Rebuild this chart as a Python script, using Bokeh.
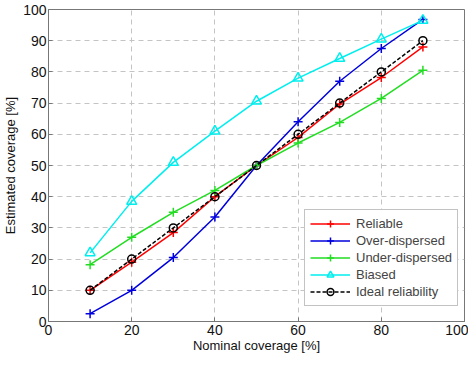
from bokeh.plotting import figure
from bokeh.embed import file_html
from bokeh.resources import INLINE
from bokeh.models import Range1d, FixedTicker, Legend, LegendItem

nominal = [10, 20, 30, 40, 50, 60, 70, 80, 90]
reliable = [10, 19, 28.5, 40, 50, 59, 69.7, 78.2, 88]
over_dispersed = [2.5, 10, 20.5, 33.5, 50, 64, 77, 87.5, 96.8]
under_dispersed = [18.2, 27, 35, 42, 50, 57.2, 63.8, 71.5, 80.5]
biased = [22, 38.5, 51, 61, 70.6, 78, 84.3, 90.5, 96.5]
ideal = [10, 20, 30, 40, 50, 60, 70, 80, 90]
ticks = [0, 10, 20, 30, 40, 50, 60, 70, 80, 90, 100]
xticks = [0, 20, 40, 60, 80, 100]

p = figure(frame_width=416, frame_height=312, output_backend="svg", toolbar_location=None,
           x_range=Range1d(0, 100), y_range=Range1d(0, 100),
           min_border_left=10, min_border_right=4, min_border_top=9, min_border_bottom=10)

font = "Liberation Sans"
for ax in (p.xaxis, p.yaxis):
    ax.major_label_text_font = font
    ax.major_label_text_font_size = "14px"
    ax.major_label_text_color = "#111111"
    ax.axis_label_text_font = font
    ax.axis_label_text_font_size = "13px"
    ax.axis_label_text_font_style = "normal"
    ax.axis_label_text_color = "#111111"
    ax.major_tick_in = 4
    ax.major_tick_out = 0
    ax.minor_tick_line_color = None
    ax.axis_line_color = "#777777"
    ax.major_tick_line_color = "#777777"
p.xaxis.ticker = FixedTicker(ticks=xticks)
p.yaxis.ticker = FixedTicker(ticks=ticks)
p.xaxis.axis_label = "Nominal coverage [%]"
p.yaxis.axis_label = "Estimated coverage [%]"
p.xaxis.axis_label_standoff = 0
p.yaxis.axis_label_standoff = 2
p.xaxis.major_label_standoff = 3
p.yaxis.major_label_standoff = 2

p.xgrid.ticker = FixedTicker(ticks=xticks)
p.ygrid.ticker = FixedTicker(ticks=ticks)
for g in (p.xgrid, p.ygrid):
    g.grid_line_color = "#c4c4c4"
    g.grid_line_dash = "5 4"
    g.grid_line_width = 1
p.outline_line_color = "#777777"
p.outline_line_alpha = 1

items = []
series = [
    ("Reliable", reliable, "#ff0000", "cross"),
    ("Over-dispersed", over_dispersed, "#0000dd", "cross"),
    ("Under-dispersed", under_dispersed, "#22dd22", "cross"),
    ("Biased", biased, "#00eeee", "triangle"),
]
for name, ys, col, mk in series:
    l = p.line(nominal, ys, line_color=col, line_width=1.5)
    if mk == "triangle":
        s = p.scatter(nominal, ys, marker="triangle", size=10, line_color=col,
                      fill_color=None, line_width=1.5)
    else:
        s = p.scatter(nominal, ys, marker="cross", size=9, line_color=col, line_width=1.5)
    items.append(LegendItem(label=name, renderers=[l, s]))

l = p.line(nominal, ideal, line_color="black", line_width=1.5, line_dash="4 2")
s = p.scatter(nominal, ideal, marker="circle", size=8, line_color="black",
              fill_color=None, line_width=1.5)
items.append(LegendItem(label="Ideal reliability", renderers=[l, s]))

legend = Legend(items=items, location=(256, 15))
legend.label_text_font = font
legend.label_text_font_size = "13px"
legend.label_height = 17
legend.glyph_height = 17
legend.glyph_width = 40
legend.label_standoff = 6
legend.spacing = 0
legend.padding = 5
legend.margin = 0
legend.border_line_color = "#888888"
legend.background_fill_alpha = 1
p.add_layout(legend)

open("out.html", "w").write(file_html(p, INLINE))
